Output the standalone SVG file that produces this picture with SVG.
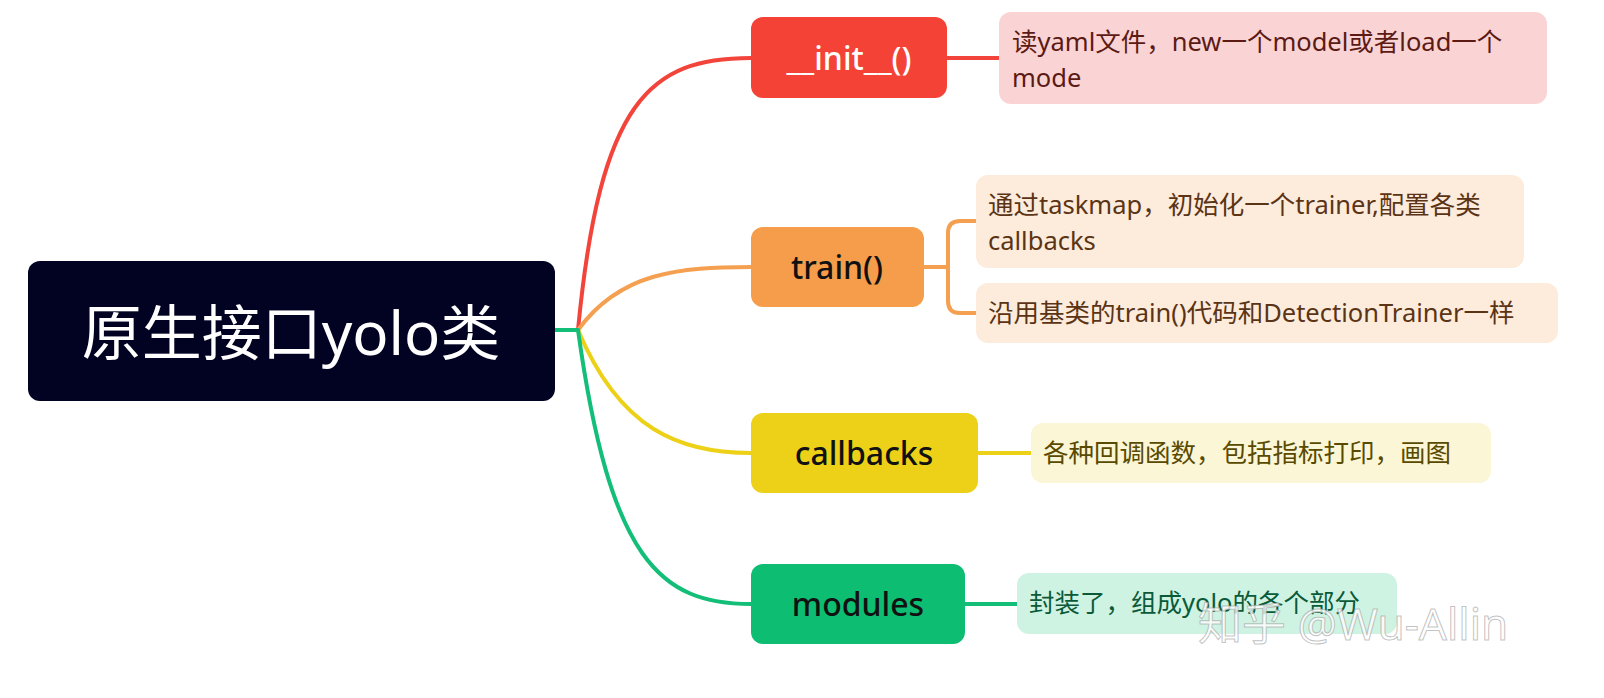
<svg xmlns="http://www.w3.org/2000/svg" width="1604" height="698" viewBox="0 0 1604 698">
<style>
text{font-family:"Noto Sans","Noto Sans CJK SC",sans-serif}
.b{font-size:32px;font-weight:500}
.l{font-size:25.5px}
.c{fill:none;stroke-width:4;stroke-linecap:round}
</style>
<rect width="1604" height="698" fill="#fff"/>
<g id="connectors">
<path class="c" stroke="#F2443A" d="M578,330 C600,100 650,58 751,58"/>
<path class="c" stroke="#F4A050" d="M578,330 C620,272 680,267 751,267"/>
<path class="c" stroke="#EDD118" d="M578,330 C620,430 680,453 751,453"/>
<path class="c" stroke="#12BE78" d="M578,330 C610,560 660,604 751,604"/>
<path class="c" stroke="#12BE78" d="M555,330 H578"/>
<path class="c" stroke="#F2443A" d="M947,58 H999"/>
<path class="c" stroke="#F4A050" d="M924,267 H948 M976,221 H960 Q948,221 948,233 V301 Q948,313 960,313 H976"/>
<path class="c" stroke="#EDD118" d="M978,453 H1031"/>
<path class="c" stroke="#12BE78" d="M965,604 H1017"/>
</g>
<g id="root">
<rect x="28" y="261" width="527" height="140" rx="12" fill="#020222"/>
<text x="291" y="355" font-size="60" fill="#fff" text-anchor="middle">原生接口yolo类</text>
</g>
<g id="init">
<rect x="751" y="17" width="196" height="81" rx="12" fill="#F44336"/>
<text x="849" y="70" class="b" fill="#fff" text-anchor="middle">__init__()</text>
</g>
<g id="train">
<rect x="751" y="227" width="173" height="80" rx="12" fill="#F59D4A"/>
<text x="837" y="279" class="b" fill="#111" text-anchor="middle">train()</text>
</g>
<g id="callbacks">
<rect x="751" y="413" width="227" height="80" rx="12" fill="#EDD118"/>
<text x="864" y="465" class="b" fill="#111" text-anchor="middle">callbacks</text>
</g>
<g id="modules">
<rect x="751" y="564" width="214" height="80" rx="12" fill="#0DBD72"/>
<text x="858" y="616" class="b" fill="#111" text-anchor="middle">modules</text>
</g>
<g id="leaf-init">
<rect x="999" y="12" width="548" height="92" rx="12" fill="#FAD4D4"/>
<text x="1012" y="51" class="l" fill="#5c1a14">读yaml文件，new一个model或者load一个</text>
<text x="1012" y="87" class="l" fill="#5c1a14">mode</text>
</g>
<g id="leaf-train1">
<rect x="976" y="175" width="548" height="93" rx="12" fill="#FDEBDC"/>
<text x="988" y="214" class="l" fill="#5a3414">通过taskmap，初始化一个trainer,配置各类</text>
<text x="988" y="250" class="l" fill="#5a3414">callbacks</text>
</g>
<g id="leaf-train2">
<rect x="976" y="283" width="582" height="60" rx="12" fill="#FDEBDC"/>
<text x="988" y="322" class="l" fill="#5a3414">沿用基类的train()代码和DetectionTrainer一样</text>
</g>
<g id="leaf-callbacks">
<rect x="1031" y="423" width="460" height="60" rx="12" fill="#FBF6D6"/>
<text x="1043" y="462" class="l" fill="#5a4a00">各种回调函数，包括指标打印，画图</text>
</g>
<g id="leaf-modules">
<rect x="1017" y="573" width="380" height="61" rx="12" fill="#CFF3E3"/>
<text x="1029" y="612" class="l" fill="#0a5a3a">封装了，组成yolo的各个部分</text>
</g>
<text x="1198" y="640" font-size="44" fill="#fff" fill-opacity="0.8" stroke="#9a9a9a" stroke-width="1" stroke-opacity="0.6">知乎 @Wu-Allin</text>
</svg>
